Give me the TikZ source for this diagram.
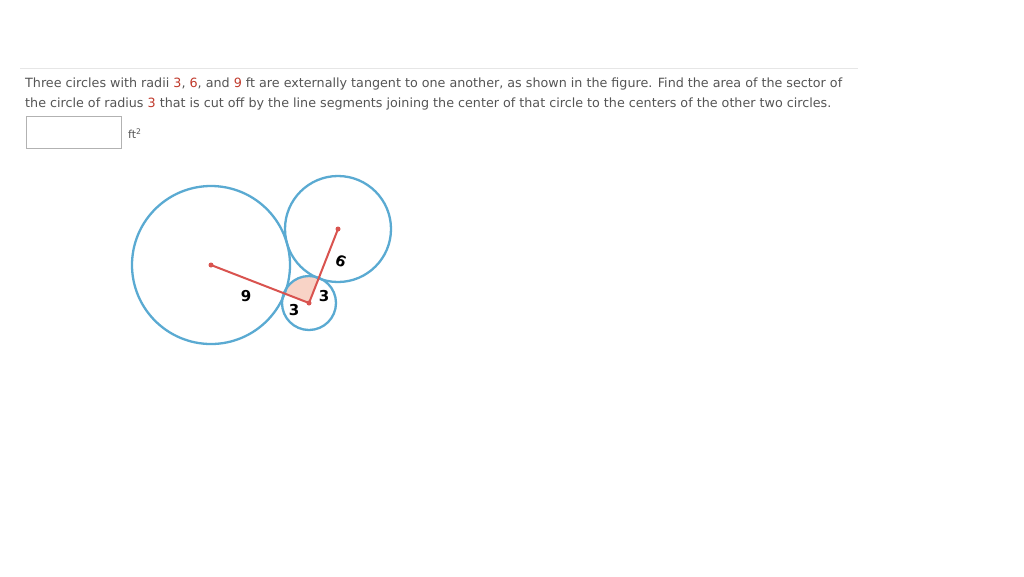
\documentclass[tikz,border=0pt]{standalone}
\usepackage{fontspec}
\setmainfont{DejaVu Sans}
\definecolor{txt}{HTML}{555555}
\definecolor{num}{HTML}{C0392B}
\definecolor{circ}{HTML}{5AAAD2}
\definecolor{seg}{HTML}{D9534F}
\definecolor{sect}{HTML}{F8D3C6}
\definecolor{rule}{HTML}{E6E6E6}
\tikzset{
  ring/.style={circle, draw=circ, line width=2.3pt, inner sep=0pt},
  radline/.style={draw=seg, line width=2pt},
  cdot/.style={circle, fill=seg, inner sep=0pt, minimum size=5pt},
  qtext/.style={anchor=base west, inner sep=0pt, text=txt, font=\fontsize{12.72pt}{14pt}\selectfont},
  hand/.style={font=\bfseries\fontsize{15pt}{15pt}\selectfont, text=black, inner sep=0pt}
}
\newcommand{\rn}[1]{\textcolor{num}{#1}}
\begin{document}
\begin{tikzpicture}[x=1pt,y=-1pt]
\useasboundingbox[fill=white] (0,0) rectangle (1024,576);
\draw[rule, line width=0.8pt] (20,68) -- (858,68);
\node[qtext] (l1) at (25,87) {Three circles with radii \rn{3}, \rn{6}, and \rn{9} ft are externally tangent to one another, as shown in the figure. Find the area of the sector of};
\node[qtext] (l2) at (25,107) {the circle of radius \rn{3} that is cut off by the line segments joining the center of that circle to the centers of the other two circles.};
\node[draw=black!30, line width=0.8pt, minimum width=95pt, minimum height=32pt, inner sep=0pt] (box) at (73.5,132) {};
\node[qtext, anchor=west, font=\fontsize{11pt}{12pt}\selectfont] (unit) at (128,134) {ft\textsuperscript{2}};
% circles
\coordinate (C9) at (211,265);
\coordinate (C6) at (338,229);
\coordinate (C3) at (309,303);
\fill[sect] (C3) -- ++(-158.8:27) arc[start angle=-158.8, end angle=-68.6, radius=27] -- cycle;
\node[ring, minimum size=158pt] (big) at (C9) {};
\node[ring, minimum size=106pt] (mid) at (C6) {};
\node[ring, minimum size=54pt] (small) at (C3) {};
\draw[radline] (big.center) -- (small.center) -- (mid.center);
\node[cdot] (d9) at (C9) {};
\node[cdot] (d6) at (C6) {};
\node[cdot] (d3) at (C3) {};
\node[hand] (n9) at (246,296) {9};
\node[hand, rotate=-20] (n6) at (341,261) {6};
\node[hand] (n3a) at (294,310) {3};
\node[hand] (n3b) at (324,296) {3};
\end{tikzpicture}
\end{document}
